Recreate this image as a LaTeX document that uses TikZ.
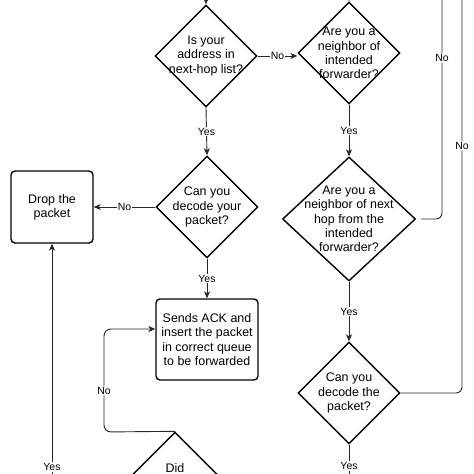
\documentclass[tikz,border=0pt]{standalone}
\usepackage{fontspec}
\setmainfont{Liberation Sans}
\usetikzlibrary{arrows.meta,shapes.geometric}
\begin{document}
\begin{tikzpicture}[x=1bp,y=-1bp,
  dia/.style={diamond,draw,line width=1.4bp,minimum width=102bp,minimum height=102bp,inner sep=0pt},
  dtext/.style={align=center,inner sep=0pt,font=\fontsize{12.5}{14.4}\selectfont},
  box/.style={draw,rounded corners=4bp,line width=1.4bp,align=center,font=\fontsize{12.5}{14.4}\selectfont},
  conn/.style={line width=0.9bp,draw=black!85},
  arr/.style={conn,-{Stealth[length=7bp,width=6bp,inset=2bp]}},
  lbl/.style={fill=white,inner sep=1bp,font=\fontsize{10.5}{12}\selectfont}]
\useasboundingbox (0,0) rectangle (474,474);
\clip (0,0) rectangle (474,474);

\node[dia,label={[dtext]center:{Is your\\address in\\next-hop list?}}] (d1) at (206,56) {};
\node[dia,label={[dtext]center:{Are you a\\neighbor of\\intended\\forwarder?}}] (d2) at (349,53) {};
\node[dia,minimum width=133bp,minimum height=124bp,label={[dtext]center:{Are you a\\neighbor of next\\hop from the\\intended\\forwarder?}}] (d3) at (349,219) {};
\node[dia,label={[dtext]center:{Can you\\decode the\\packet?}}] (d4) at (349,393) {};
\node[dia,label={[dtext]center:{Can you\\decode your\\packet?}}] (d5) at (207,207) {};
\node[dia,label={[dtext,yshift=15bp]center:{Did}}] (d6) at (175,483) {};
\node[box,minimum width=82bp,minimum height=72bp] (drop) at (52,207) {Drop the\\packet};
\node[box,minimum width=102bp,minimum height=81bp] (ack) at (207,339.5) {Sends ACK and\\insert the packet\\in correct queue\\to be forwarded};

\coordinate (t1) at (206,-20);
\coordinate (t2) at (349,-20);
\coordinate (r1) at (442,-20);
\coordinate (r2) at (462,-20);
\coordinate (b1) at (52,490);
\coordinate (b4) at (349,490);
\coordinate (c6a) at (104,432);
\coordinate (c6b) at (104,329);

\draw[arr] (t1) -- (d1.north);
\draw[arr] (t2) -- (d2.north);
\draw[arr] (d1.east) -- node[lbl]{No} (d1.east -| d2.west);
\draw[arr] (d1.south) -- node[lbl]{Yes} (d5.north);
\draw[arr] (d2.south) -- node[lbl]{Yes} (d3.north);
\draw[arr] (d3.south) -- node[lbl]{Yes} (d4.north);
\draw[conn] (d4.south) -- node[lbl,pos=0.47]{Yes} (b4);
\draw[arr] (d5.west) -- node[lbl]{No} (drop.east);
\draw[arr] (d5.south) -- node[lbl]{Yes} (ack.north);
\draw[arr] (b1) -- node[lbl,pos=0.093]{Yes} (drop.south);
\draw[conn,rounded corners=6bp,shorten <=5bp] (d3.east) -| node[lbl,pos=0.837]{No} (r1);
\draw[conn,rounded corners=6bp] (d4.east) -| node[lbl,pos=0.799]{No} (r2);
\draw[arr,rounded corners=7bp] (d6.north) -- (c6a) -- node[lbl,pos=0.4]{No} (c6b) -- ([yshift=10.5bp]ack.west);
\end{tikzpicture}
\end{document}
